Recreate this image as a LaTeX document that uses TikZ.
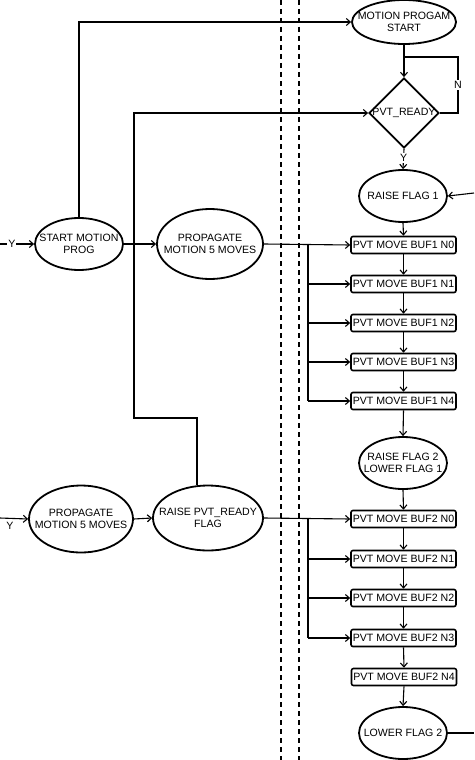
\documentclass[tikz,border=0pt]{standalone}
\usepackage{fontspec}
\setmainfont{Liberation Sans}
\usetikzlibrary{shapes.geometric,arrows.meta}
\begin{document}
\begin{tikzpicture}[x=1pt,y=-1pt,
  font=\fontsize{10.6}{12}\selectfont,
  oval/.style={draw,ellipse,line width=1.8pt,inner sep=0pt},
  txt/.style={align=center,inner sep=0pt},
  movebox/.style={draw,rectangle,rounded corners=2pt,line width=1.6pt,minimum width=105pt,minimum height=17pt,inner sep=0pt},
  conn/.style={line width=1.1pt},
  arr/.style={conn,-{Straight Barb[length=4pt,width=7pt]}},
  lbl/.style={fill=white,inner sep=1pt},
  sep/.style={line width=1.5pt,dash pattern=on 5pt off 4pt}]
\useasboundingbox (0,0) rectangle (474,760);
\draw[sep] (281,0) -- (281,760);
\draw[sep] (299,0) -- (299,760);
% right column
\node[oval,minimum width=104pt,minimum height=44pt] (mps) at (404,22) {};
\node[txt] at (mps) {MOTION PROGAM\\START};
\node[draw,diamond,line width=1.8pt,minimum width=70pt,minimum height=70pt,inner sep=0pt] (d) at (404,113) {};
\node[txt] (dt) at (d) {PVT\_READY};
\node[oval,minimum width=88pt,minimum height=52pt] (rf1) at (403,196) {};
\node[txt] at (rf1) {RAISE FLAG 1};
\node[movebox] (a0) at (403.5,245) {PVT MOVE BUF1 N0};
\node[movebox] (a1) at (403.5,284) {PVT MOVE BUF1 N1};
\node[movebox] (a2) at (403.5,323) {PVT MOVE BUF1 N2};
\node[movebox] (a3) at (403.5,362) {PVT MOVE BUF1 N3};
\node[movebox] (a4) at (403.5,401) {PVT MOVE BUF1 N4};
\node[oval,minimum width=88pt,minimum height=52pt] (rf2) at (403,463) {};
\node[txt] at (rf2) {RAISE FLAG 2\\LOWER FLAG 1};
\node[movebox] (b0) at (403.5,519) {PVT MOVE BUF2 N0};
\node[movebox] (b1) at (403.5,559) {PVT MOVE BUF2 N1};
\node[movebox] (b2) at (403.5,598) {PVT MOVE BUF2 N2};
\node[movebox] (b3) at (403.5,638) {PVT MOVE BUF2 N3};
\node[movebox] (b4) at (404,677) {PVT MOVE BUF2 N4};
\node[oval,minimum width=88pt,minimum height=52pt] (lf2) at (403,733) {};
\node[txt] at (lf2) {LOWER FLAG 2};
% left side
\node[oval,minimum width=88pt,minimum height=52pt] (smp) at (79,244) {};
\node[txt] at (smp) {START MOTION\\PROG};
\node[oval,minimum width=106pt,minimum height=70pt] (pm1) at (210,244) {};
\node[txt] at (pm1) {PROPAGATE\\MOTION 5 MOVES};
\node[oval,minimum width=104pt,minimum height=67pt] (pm2) at (81,519) {};
\node[txt] at (pm2) {PROPAGATE\\MOTION 5 MOVES};
\node[oval,minimum width=110pt,minimum height=65pt] (rpf) at (208,518) {};
\node[txt] at (rpf) {RAISE PVT\_READY\\FLAG};
% coordinates
\coordinate (inA) at (0,244);
\coordinate (inB) at (0,518);
\coordinate (rin) at (474,193);
\coordinate (rout) at (474,733);
\coordinate (nx) at (458,113);
\coordinate (ny) at (458,57);
\coordinate (nj) at (404,57);
\coordinate (up) at (134,418);
\coordinate (ja) at (308,245);
\coordinate (jb) at (308,519);
% connectors right column
\draw[arr] (mps.south) -- (d.north);
\draw[conn] (d.east) -- (nx) -- node[lbl]{N} (ny) -- (nj);
\draw[arr] (d.south) -- node[lbl,pos=0.45]{Y} (rf1.north);
\draw[arr] (rin) -- (rf1.east);
\draw[arr] (rf1.south) -- (a0.north);
\draw[arr] (a0.south) -- (a1.north);
\draw[arr] (a1.south) -- (a2.north);
\draw[arr] (a2.south) -- (a3.north);
\draw[arr] (a3.south) -- (a4.north);
\draw[arr] (a4.south) -- (rf2.north);
\draw[arr] (rf2.south) -- (b0.north);
\draw[arr] (b0.south) -- (b1.north);
\draw[arr] (b1.south) -- (b2.north);
\draw[arr] (b2.south) -- (b3.north);
\draw[arr] (b3.south) -- (b4.north);
\draw[arr] (b4.south) -- (lf2.north);
\draw[conn] (lf2.east) -- (rout);
% left connectors
\draw[arr] (inA) -- node[lbl,pos=0.35]{Y} (smp.west);
\draw[arr] (smp.east) -- (pm1.west);
\draw[arr] (smp.north) |- (mps.west);
\draw[arr] (pm1.east) -- (a0.west);
\draw[conn] (ja) -- (308,401);
\draw[arr] (ja |- a1.west) -- (a1.west);
\draw[arr] (ja |- a2.west) -- (a2.west);
\draw[arr] (ja |- a3.west) -- (a3.west);
\draw[arr] (ja |- a4.west) -- (a4.west);
\draw[arr] (inB) -- (pm2.west);
\node at (10,526) {Y};
\draw[arr] (pm2.east) -- (rpf.west);
\draw[arr] ([xshift=-11pt]rpf.north) |- (up) |- (dt.west -| d.west);
\draw[arr] (rpf.east) -- (b0.west);
\draw[conn] (jb) -- (308,638);
\draw[arr] (jb |- b1.west) -- (b1.west);
\draw[arr] (jb |- b2.west) -- (b2.west);
\draw[arr] (jb |- b3.west) -- (b3.west);
\end{tikzpicture}
\end{document}
